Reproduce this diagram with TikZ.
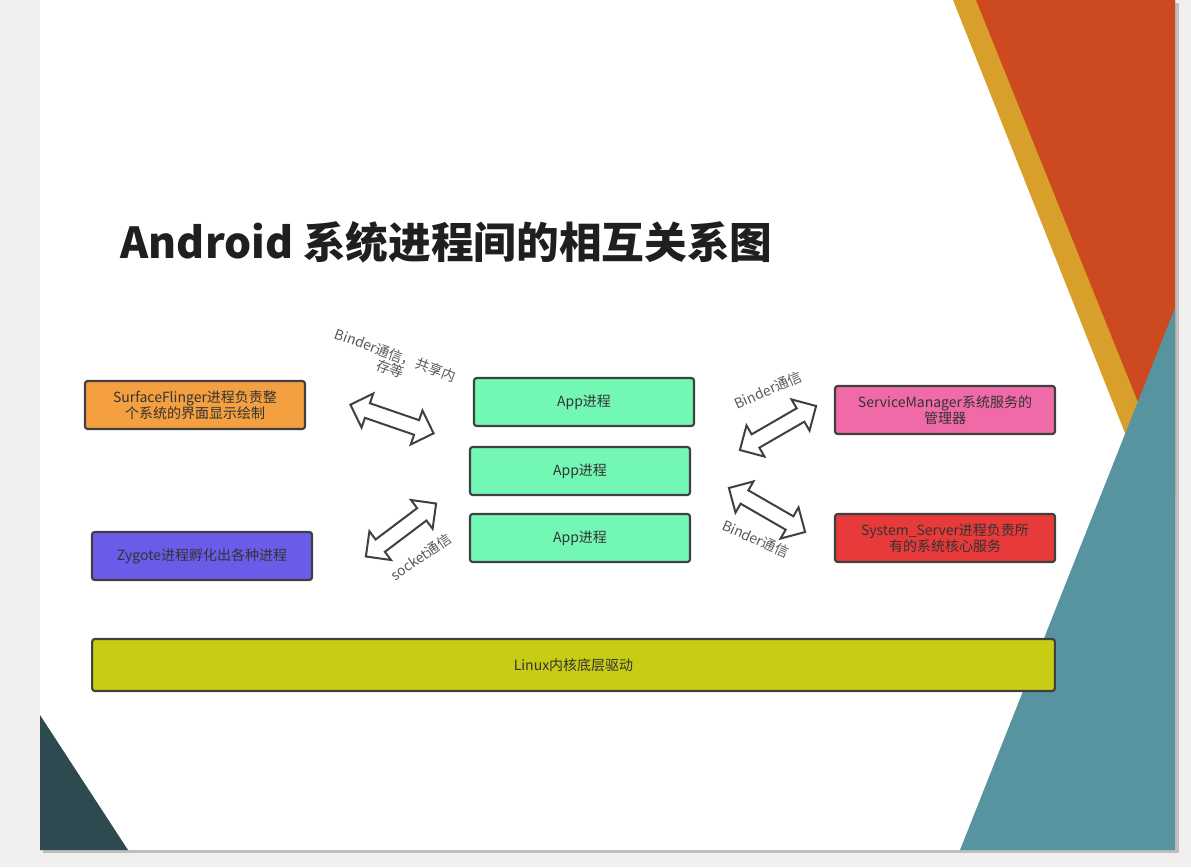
\documentclass[tikz,border=0pt]{standalone}
\usepackage{fontspec}
\setmainfont{Noto Sans CJK SC}
\usetikzlibrary{shapes.arrows}
\definecolor{bgc}{HTML}{F0EFED}
\definecolor{orng}{HTML}{CD4920}
\definecolor{gold}{HTML}{D8A02A}
\definecolor{teal}{HTML}{5893A0}
\definecolor{dteal}{HTML}{2D4A50}
\definecolor{sfc}{HTML}{F4A040}
\definecolor{zyc}{HTML}{6A5CE8}
\definecolor{appc}{HTML}{73F7B5}
\definecolor{smc}{HTML}{F06AA8}
\definecolor{ssc}{HTML}{E83A3A}
\definecolor{lxc}{HTML}{C8CC14}
\definecolor{txt}{HTML}{333333}
\tikzset{
 box/.style={draw=black!75,line width=1.6pt,rounded corners=2pt,inner sep=0pt,align=center,font=\fontsize{10.5}{12}\selectfont,text=txt},
 darr/.style={double arrow,draw=black!75,fill=white,line width=1.5pt,minimum height=66pt,minimum width=27pt,double arrow head extend=5pt,inner sep=3pt},
 lbl/.style={font=\fontsize{10.5}{11}\selectfont,text=black!65,align=center}
}
\begin{document}
\begin{tikzpicture}[x=0.75pt,y=-0.75pt]
\useasboundingbox (0,0) rectangle (1191,867);
\fill[bgc] (0,0) rectangle (1191,867);
\fill[black!25] (43,3) rectangle (1179,853);
\fill[white] (40,0) rectangle (1175,850);
\fill[gold] (953,0) -- (1175,0) -- (1175,559) -- cycle;
\fill[orng] (976,0) -- (1175,0) -- (1175,494) -- cycle;
\fill[teal] (1175,308) -- (1175,850) -- (960,850) -- cycle;
\fill[dteal] (40,715) -- (40,850) -- (128,850) -- cycle;
\node[anchor=west,font=\fontsize{32}{36}\selectfont\bfseries,text=black!88] (title) at (116,242) {Android 系统进程间的相互关系图};
\node[box,fill=sfc,minimum width=165pt,minimum height=36pt] (sf) at (195,405) {SurfaceFlinger进程负责整\\个系统的界面显示绘制};
\node[box,fill=zyc,minimum width=165pt,minimum height=36pt] (zy) at (202,556) {Zygote进程孵化出各种进程};
\node[box,fill=appc,minimum width=165pt,minimum height=36pt] (a1) at (584,402) {App进程};
\node[box,fill=appc,minimum width=165pt,minimum height=36pt] (a2) at (580,471) {App进程};
\node[box,fill=appc,minimum width=165pt,minimum height=36pt] (a3) at (580,538) {App进程};
\node[box,fill=smc,minimum width=165pt,minimum height=36pt] (sm) at (945,410) {ServiceManager系统服务的\\管理器};
\node[box,fill=ssc,minimum width=165pt,minimum height=36pt] (ss) at (945,538) {System\_Server进程负责所\\有的系统核心服务};
\node[box,fill=lxc,minimum width=722pt,minimum height=39pt] (lx) at (573.5,665) {Linux内核底层驱动};
\node[darr,rotate=-19] (d1) at (392,419) {};
\node[darr,rotate=37] (d2) at (401,530) {};
\node[darr,rotate=30] (d3) at (778,428) {};
\node[darr,rotate=-30] (d4) at (767,510) {};
\node[lbl,rotate=-20] (l1) at (393,362) {Binder通信，共享内\\存等};
\node[lbl,rotate=24] (l3) at (768,390) {Binder通信};
\node[lbl,rotate=-24] (l4) at (756,539) {Binder通信};
\node[lbl,rotate=35] (l2) at (421,557) {socket通信};
\end{tikzpicture}
\end{document}
